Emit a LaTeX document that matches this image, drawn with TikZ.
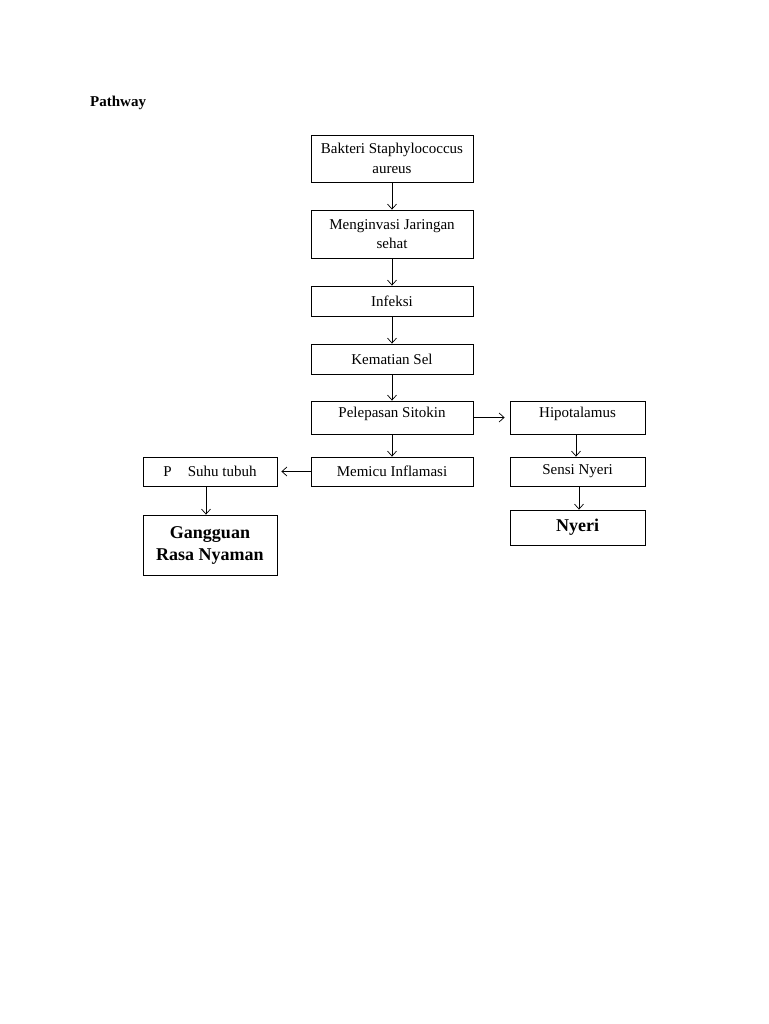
\documentclass[tikz,border=0pt]{standalone}
\usepackage{fontspec}
\setmainfont{Liberation Serif}
\usetikzlibrary{arrows.meta}
\begin{document}
\begin{tikzpicture}[x=1pt,y=-1pt,
  box/.style={draw, line width=0.8pt, inner sep=0pt, align=center, font=\fontsize{15}{19.5}\selectfont},
  bigbox/.style={box, font=\fontsize{18}{22}\selectfont\bfseries},
  up/.style={text height=11pt, text depth=11pt},
  arr/.style={-{Straight Barb[length=5pt,width=9pt]}, line width=0.7pt}]
\useasboundingbox (0,0) rectangle (768,1024);
\fill[white] (0,0) rectangle (768,1024);
\node[anchor=west, inner sep=0pt, font=\fontsize{15}{18}\selectfont\bfseries] (title) at (90,103) {Pathway};
\node[box, minimum width=162pt, minimum height=47pt] (a) at (392,158.5) {Bakteri Staphylococcus\\aureus};
\node[box, minimum width=162pt, minimum height=48pt] (b) at (392,234) {Menginvasi Jaringan\\sehat};
\node[box, minimum width=162pt, minimum height=30pt] (c) at (392,301) {Infeksi};
\node[box, minimum width=162pt, minimum height=30pt] (d) at (392,359) {Kematian Sel};
\node[box, up, minimum width=162pt, minimum height=33pt] (e) at (392,417.5) {Pelepasan Sitokin};
\node[box, minimum width=162pt, minimum height=29pt] (f) at (392,471.5) {Memicu Inflamasi};
\node[box, up, minimum width=135pt, minimum height=33pt] (h) at (577.5,417.5) {Hipotalamus};
\node[box, minimum width=135pt, minimum height=29pt] (s) at (577.5,471.5) {Sensi Nyeri};
\node[bigbox, minimum width=135pt, minimum height=35pt] (n) at (577.5,527.5) {Nyeri};
\node[box, minimum width=134pt, minimum height=29pt] (p) at (210,471.5) {P\hspace{16pt}Suhu tubuh};
\node[bigbox, minimum width=134pt, minimum height=60pt] (g) at (210,545) {Gangguan\\Rasa Nyaman};
\draw[arr] (a.south) -- (b.north);
\draw[arr] (b.south) -- (c.north);
\draw[arr] (c.south) -- (d.north);
\draw[arr] (d.south) -- (e.north);
\draw[arr] (e.south) -- (f.north);
\draw[arr] (e.east) -- ([xshift=-5pt]h.west);
\draw[arr] (f.west) -- ([xshift=4pt]p.east);
\draw[arr] ([xshift=-1.5pt]h.south) -- ([xshift=-1.5pt]s.north);
\draw[arr] ([xshift=1.5pt]s.south) -- ([xshift=1.5pt]n.north);
\draw[arr] ([xshift=-4pt]p.south) -- ([xshift=-4pt]g.north);
\end{tikzpicture}
\end{document}
